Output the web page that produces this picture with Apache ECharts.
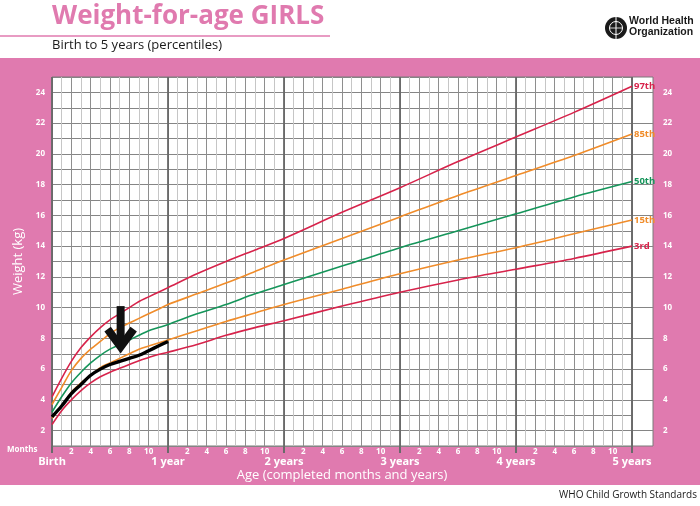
<!DOCTYPE html>
<html><head><meta charset="utf-8">
<script src="https://cdn.jsdelivr.net/npm/echarts@6/dist/echarts.min.js"></script>
<style>html,body{margin:0;padding:0;background:#fff}#c{width:700px;height:506px}</style>
</head><body><div id="c"></div>
<script>
// ---- data (months, kg) ----
const months = [0,1,2,3,4,5,6,7,8,9,10,11,12,15,18,21,24,30,36,42,48,54,60];
const p3  = [2.4,3.3,4.0,4.6,5.1,5.5,5.8,6.05,6.3,6.55,6.75,6.95,7.1,7.6,8.2,8.7,9.15,10.1,11.0,11.8,12.5,13.2,14.0];
const p15 = [2.8,3.6,4.5,5.1,5.6,6.1,6.4,6.7,7.0,7.3,7.5,7.7,7.9,8.5,9.1,9.65,10.2,11.2,12.2,13.1,13.9,14.8,15.7];
const p50 = [3.2,4.2,5.1,5.8,6.4,6.9,7.3,7.6,7.9,8.2,8.5,8.7,8.9,9.6,10.2,10.9,11.5,12.7,13.9,15.0,16.1,17.2,18.2];
const p85 = [3.7,4.8,5.9,6.7,7.3,7.8,8.3,8.7,9.0,9.3,9.6,9.9,10.2,10.9,11.6,12.35,13.1,14.5,15.9,17.3,18.6,19.9,21.3];
const p97 = [4.2,5.4,6.5,7.4,8.1,8.7,9.2,9.6,10.0,10.4,10.7,11.0,11.3,12.2,13.0,13.75,14.5,16.2,17.8,19.5,21.1,22.7,24.4];
const percentileNames = ['97th','85th','50th','15th','3rd'];
const childMonths = [0,1,2,3,4,5,6,7,8,9,10,11,12];
const childKg     = [2.9,3.6,4.4,5.0,5.6,6.0,6.3,6.5,6.7,6.9,7.2,7.5,7.8];
const arrowShaft = [[7.1,10.1],[7.1,7.7]];
const arrowHead  = [[5.75,8.6],[7.1,7.45],[8.45,8.6]];
const yearLabels = ['Birth','1 year','2 years','3 years','4 years','5 years'];

const PINK = '#e07aaf', RED = '#d7234b', ORANGE = '#f08c2a', GREEN = '#15955a';
const FONT = 'Open Sans';
const pair = (xs, ys) => xs.map((x, i) => [x, ys[i]]);
const pSeries = [
  {name: percentileNames[0], d: p97, c: RED},
  {name: percentileNames[1], d: p85, c: ORANGE},
  {name: percentileNames[2], d: p50, c: GREEN},
  {name: percentileNames[3], d: p15, c: ORANGE},
  {name: percentileNames[4], d: p3,  c: RED}
].map(s => ({
  type: 'line', name: s.name, xAxisIndex: 0, yAxisIndex: 0,
  data: pair(months, s.d), smooth: 0.3, showSymbol: false,
  lineStyle: {color: s.c, width: 1.6}, itemStyle: {color: s.c}, z: 3,
  endLabel: {show: true, formatter: s.name, color: s.c, fontSize: 9.5, fontWeight: 'bold', fontFamily: FONT, distance: 2}
}));

const monthColors = ['#6e6e6e','#c6c6c6','#8e8e8e','#c6c6c6','#8e8e8e','#c6c6c6','#8e8e8e','#c6c6c6','#8e8e8e','#c6c6c6','#8e8e8e','#c6c6c6'];
const labelStyle = {color: '#fff', fontSize: 8, fontWeight: 'bold', fontFamily: FONT};

const chart = echarts.init(document.getElementById('c'), null, {renderer: 'canvas'});
chart.setOption({
  animation: false,
  textStyle: {fontFamily: FONT},
  grid: [
    {left: 52, top: 77, width: 580, height: 369, show: true, backgroundColor: '#fff', borderColor: '#7a7a7a', borderWidth: 1},
    {left: 632, top: 77, width: 21, height: 369, show: true, backgroundColor: '#fff', borderColor: '#7a7a7a', borderWidth: 1}
  ],
  xAxis: [
    {type: 'value', gridIndex: 0, min: 0, max: 60, interval: 1, position: 'bottom',
     axisLine: {show: false}, axisTick: {show: false},
     splitLine: {show: true, lineStyle: {color: monthColors, width: 1}},
     axisLabel: {...labelStyle, margin: 2, formatter: v => { const m = v % 12; return (m && m % 2 === 0) ? String(m) : ''; }},
     name: 'Age (completed months and years)', nameLocation: 'middle', nameGap: 23,
     nameTextStyle: {color: '#fff', fontSize: 13, fontFamily: FONT}},
    {type: 'value', gridIndex: 0, min: 0, max: 60, interval: 12, position: 'bottom',
     axisLine: {show: false}, axisTick: {show: true, length: 7, lineStyle: {color: '#6a6a6a', width: 2}},
     splitLine: {show: true, lineStyle: {color: '#6a6a6a', width: 1.8}},
     axisLabel: {color: '#fff', fontSize: 11, fontWeight: 'bold', fontFamily: FONT, margin: 10,
       formatter: v => yearLabels[v / 12] || ''}},
    {type: 'value', gridIndex: 1, min: 0, max: 1, show: false}
  ],
  yAxis: [
    {type: 'value', gridIndex: 0, min: 1, max: 25, interval: 1,
     axisLine: {show: false}, axisTick: {show: false},
     splitLine: {show: true, lineStyle: {color: '#858585', width: 1}},
     axisLabel: {...labelStyle, margin: 7, formatter: v => v % 2 === 0 ? String(v) : ''},
     name: 'Weight (kg)', nameLocation: 'middle', nameGap: 26, nameRotate: 90,
     nameTextStyle: {color: '#fff', fontSize: 13, fontFamily: FONT}},
    {type: 'value', gridIndex: 1, min: 1, max: 25, interval: 1, position: 'right',
     axisLine: {show: false}, axisTick: {show: false},
     splitLine: {show: true, lineStyle: {color: ['rgba(0,0,0,0)', '#858585'], width: 1}},
     axisLabel: {...labelStyle, margin: 10, formatter: v => v % 2 === 0 ? String(v) : ''}}
  ],
  series: [
    ...pSeries,
    {type: 'line', name: 'child', data: pair(childMonths, childKg), smooth: 0.3, showSymbol: false,
     lineStyle: {color: '#000', width: 3.4}, z: 5},
    {type: 'line', name: 'arrowShaft', data: arrowShaft, showSymbol: false,
     lineStyle: {color: '#111', width: 8, cap: 'butt'}, z: 6},
    {type: 'line', name: 'arrowHead', data: arrowHead, showSymbol: false,
     lineStyle: {color: '#111', width: 8, cap: 'butt', join: 'miter'}, z: 6}
  ],
  graphic: [
    {type: 'rect', z: -10, shape: {x: 0, y: 58, width: 700, height: 427}, style: {fill: PINK}},
    {type: 'text', x: 52, y: 4, style: {text: 'Weight-for-age GIRLS', fill: PINK, font: 'bold 26px "Open Sans"'}},
    {type: 'line', shape: {x1: 0, y1: 36, x2: 330, y2: 36}, style: {stroke: PINK, lineWidth: 1.5}},
    {type: 'text', x: 52, y: 39, style: {text: 'Birth to 5 years (percentiles)', fill: '#1a1a1a', font: '13px "Open Sans"'}},
    {type: 'circle', shape: {cx: 616, cy: 28, r: 11}, style: {fill: '#1a1a1a'}},
    {type: 'circle', shape: {cx: 616, cy: 28, r: 6.5}, style: {fill: 'none', stroke: '#fff', lineWidth: 1}},
    {type: 'line', shape: {x1: 616, y1: 15, x2: 616, y2: 40}, style: {stroke: '#fff', lineWidth: 1}},
    {type: 'line', shape: {x1: 609.5, y1: 28, x2: 622.5, y2: 28}, style: {stroke: '#fff', lineWidth: 0.8}},
    {type: 'text', x: 629, y: 16, style: {text: 'World Health\nOrganization', fill: '#1a1a1a', font: 'bold 10.5px "Liberation Sans Narrow", "Liberation Sans"', lineHeight: 11}},
    {type: 'text', x: 7, y: 446, style: {text: 'Months', fill: '#fff', font: 'bold 8px "Open Sans"'}},
    {type: 'text', x: 697, y: 490, style: {text: 'WHO Child Growth Standards', fill: '#1a1a1a', font: '10px "Open Sans"', align: 'right'}}
  ]
});
</script>
</body></html>
